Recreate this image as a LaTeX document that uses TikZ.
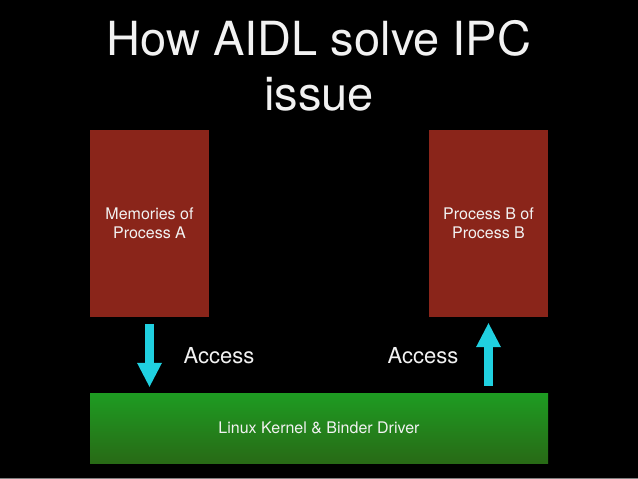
\documentclass[tikz,border=0pt]{standalone}
\usepackage{fontspec}
\setmainfont{TeX Gyre Heros}
\usetikzlibrary{arrows.meta}
\definecolor{slidered}{RGB}{138,37,26}
\definecolor{kerneltop}{RGB}{30,156,34}
\definecolor{kernelbottom}{RGB}{40,106,22}
\definecolor{accesscyan}{RGB}{32,208,224}
\definecolor{slidetext}{RGB}{242,242,242}
\tikzset{
  membox/.style={fill=slidered, minimum width=119pt, minimum height=187pt, inner sep=0pt,
    align=center, text=slidetext, font=\fontsize{16}{19}\selectfont},
  kernelbox/.style={top color=kerneltop, bottom color=kernelbottom, minimum width=458pt,
    minimum height=70pt, inner sep=0pt, text=slidetext, font=\fontsize{16}{19}\selectfont},
  accessarrow/.style={draw=accesscyan, line width=9pt,
    -{Triangle[width=25pt, length=24pt, line width=0pt]}, shorten <=7pt, shorten >=6pt},
  accesslabel/.style={anchor=base, text=slidetext, font=\fontsize{22}{26}\selectfont},
}
\begin{document}
\begin{tikzpicture}[x=1pt, y=-1pt]
  \useasboundingbox (0,0) rectangle (638,479);
  \fill[black] (0,0) rectangle (638,479);
  \draw[gray, line width=1pt] (0,478.5) -- (638,478.5);
  % title
  \node[anchor=base, align=center, text=slidetext, font=\fontsize{47}{55}\selectfont] (title)
    at (319,110) {How AIDL solve IPC\\issue};
  % memories and kernel
  \node[membox] (procA) at (149.5,223.5) {Memories of\\Process A};
  \node[membox] (procB) at (488.5,223.5) {Process B of\\Process B};
  \node[kernelbox] (kernel) at (319,428) {\raisebox{-1.3pt}{Linux Kernel \& Binder Driver}};
  % access arrows
  \draw[accessarrow] (procA.south) -- (procA.south |- kernel.north);
  \draw[accessarrow] (procB.south |- kernel.north) -- (procB.south);
  \node[accesslabel] (accessA) at (219,363) {Access};
  \node[accesslabel] (accessB) at (423,363) {Access};
\end{tikzpicture}
\end{document}
